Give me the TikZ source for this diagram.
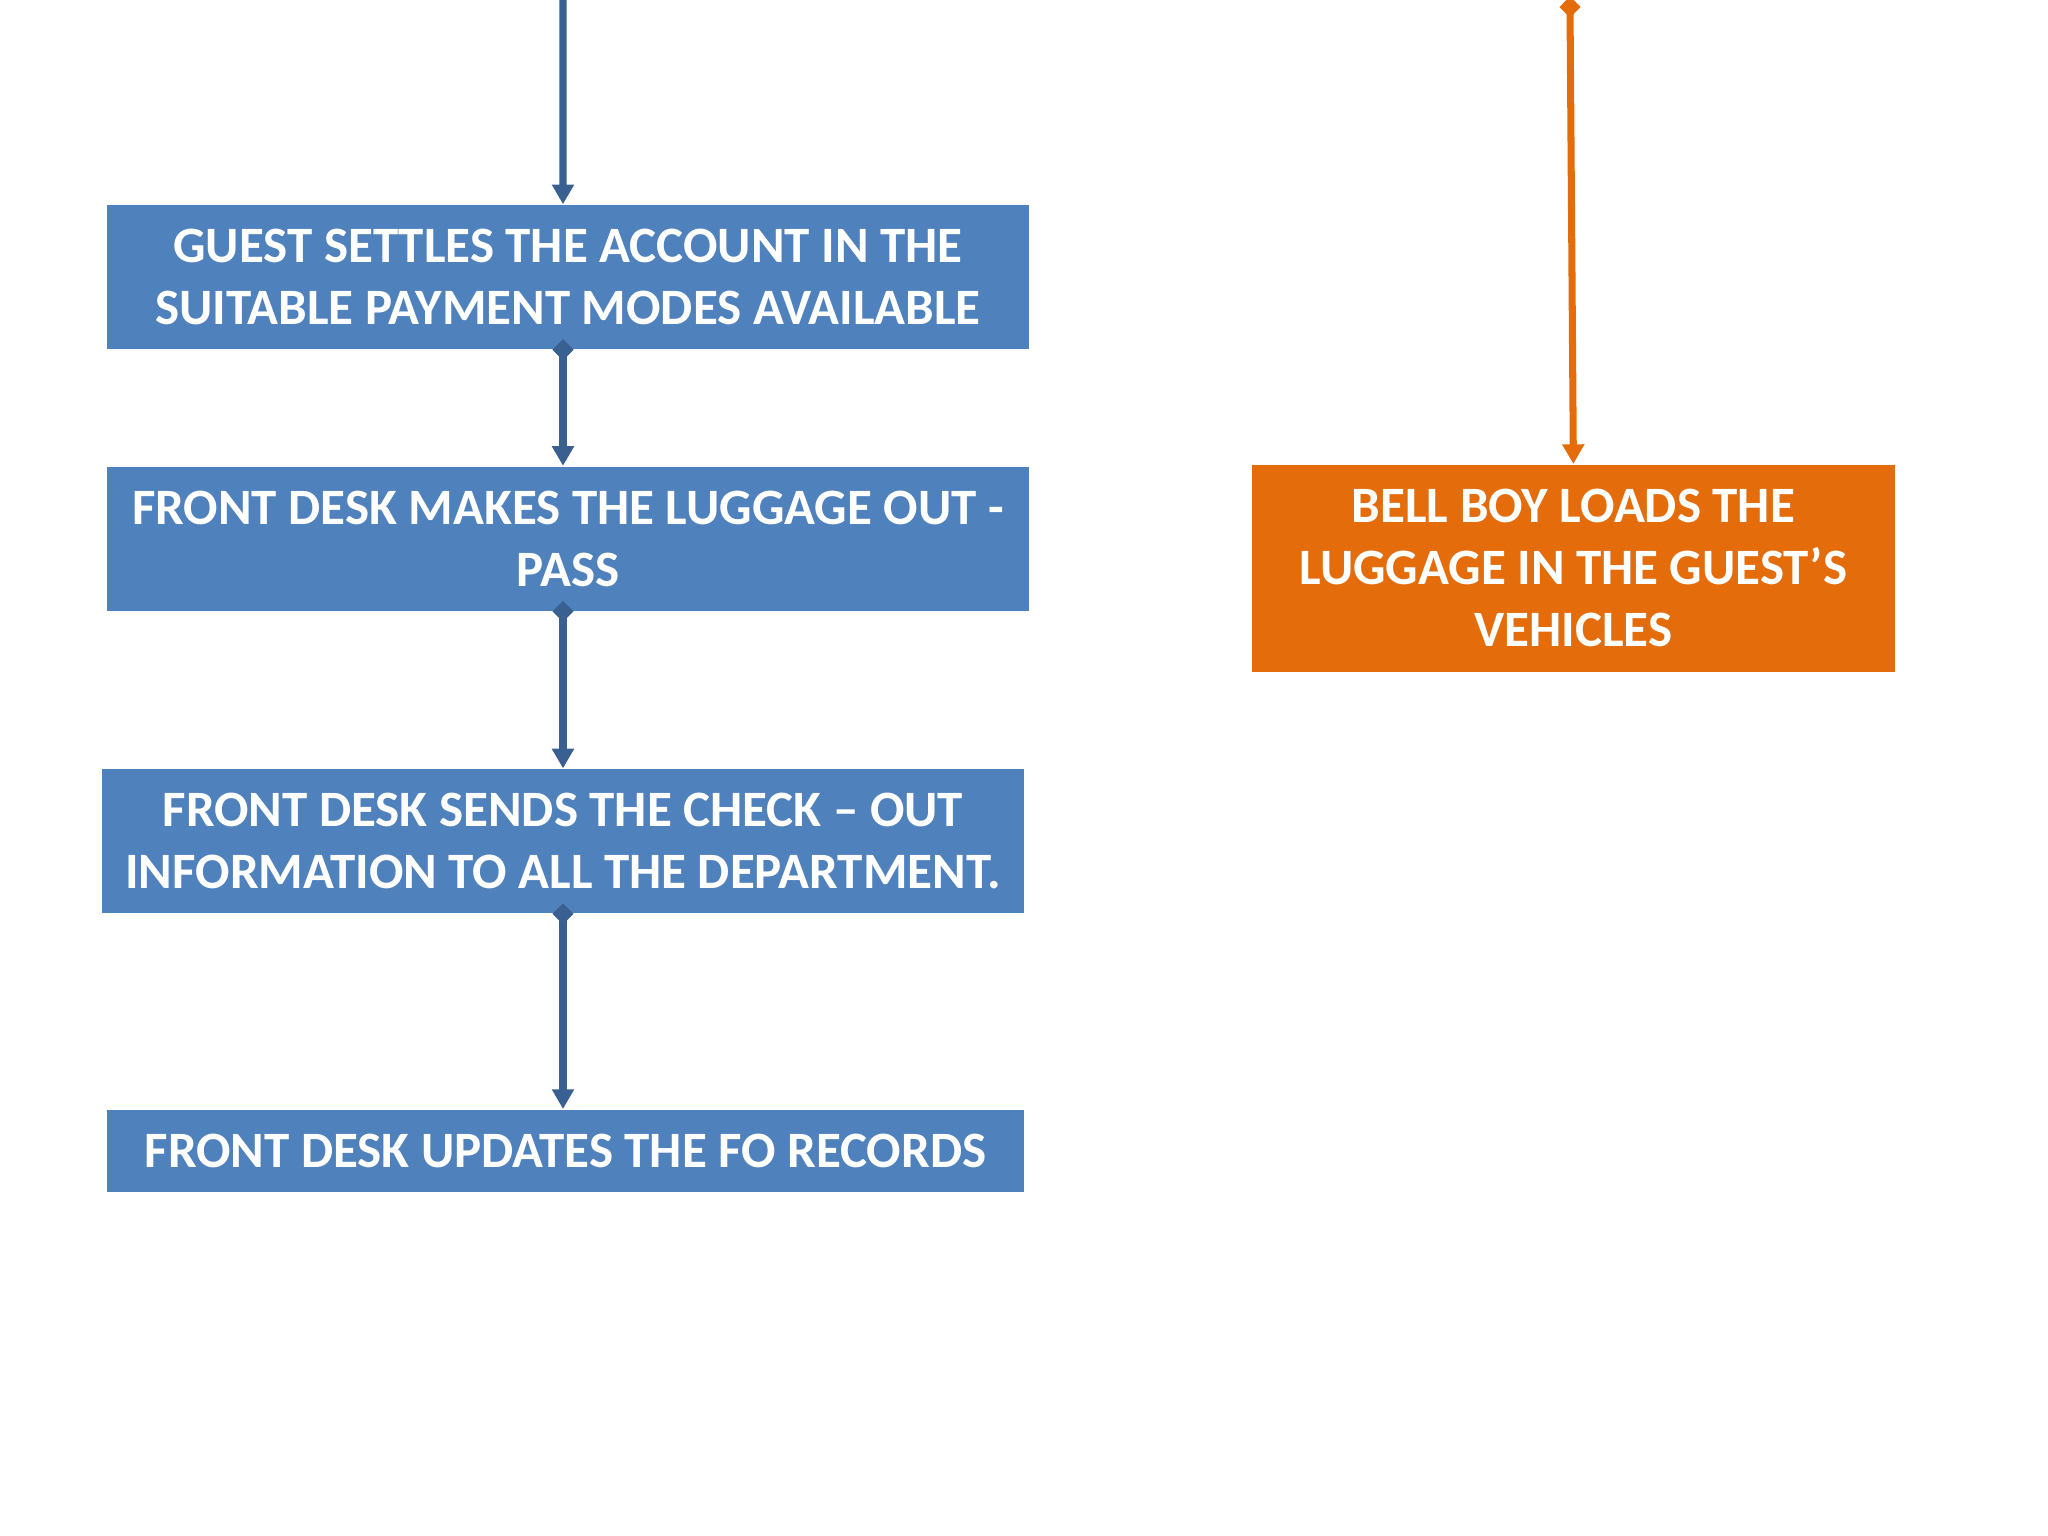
\documentclass[tikz,border=0pt]{standalone}
\usepackage{fontspec}
\setmainfont{Carlito}
\usepackage{xcolor}
\usepackage{tikz}
\usetikzlibrary{arrows.meta,positioning}
\definecolor{boxblue}{RGB}{79,129,189}
\definecolor{lineblue}{RGB}{58,95,145}
\definecolor{boxorange}{RGB}{228,108,10}

\begin{document}
\begin{tikzpicture}[
  x=0.01cm,y=-0.01cm,
  node distance=1.15cm,
  stage/.style={fill=boxblue,text=white,align=center,inner sep=0pt,
    font=\fontsize{14.5}{17.6}\selectfont\bfseries,minimum width=9.22cm,minimum height=1.44cm},
  bell/.style={stage,fill=boxorange,minimum width=6.43cm,minimum height=2.07cm},
  link/.style={line width=2pt,shorten <=-3pt,
    {Kite[length=6pt,width=6pt,inset=3pt]}-{Triangle[length=5.6pt,width=6pt]}}
]
\useasboundingbox (0,0) rectangle (2048,1536);
\node[stage] (settle) at (568,277) {GUEST SETTLES THE ACCOUNT IN THE\\SUITABLE PAYMENT MODES AVAILABLE};
\node[stage,below=1.16cm of settle] (pass) {FRONT DESK MAKES THE LUGGAGE OUT -\\PASS};
\node[stage,below=1.57cm of pass,xshift=-0.05cm] (inform) {FRONT DESK SENDS THE CHECK -- OUT\\INFORMATION TO ALL THE DEPARTMENT.};
\node[stage,below=1.95cm of inform,xshift=0.025cm,minimum width=9.17cm,minimum height=0.82cm] (records) {FRONT DESK UPDATES THE FO RECORDS};
\node[bell,anchor=north west] (loads) at (1251,464) {BELL BOY LOADS THE\\LUGGAGE IN THE GUEST’S\\VEHICLES};
\coordinate (prev) at (563,-8);
\coordinate (porter) at (1570,7);
\draw[link,lineblue] (prev) -- ([xshift=-0.05cm]settle.north);
\draw[link,lineblue] ([xshift=-0.05cm]settle.south) -- ([xshift=-0.05cm]pass.north);
\draw[link,lineblue] ([xshift=-0.05cm]pass.south) -- (inform.north);
\draw[link,lineblue] (inform.south) -- ([xshift=-0.025cm]records.north);
\draw[link,boxorange] (porter) -- (loads.north);
\end{tikzpicture}
\end{document}
